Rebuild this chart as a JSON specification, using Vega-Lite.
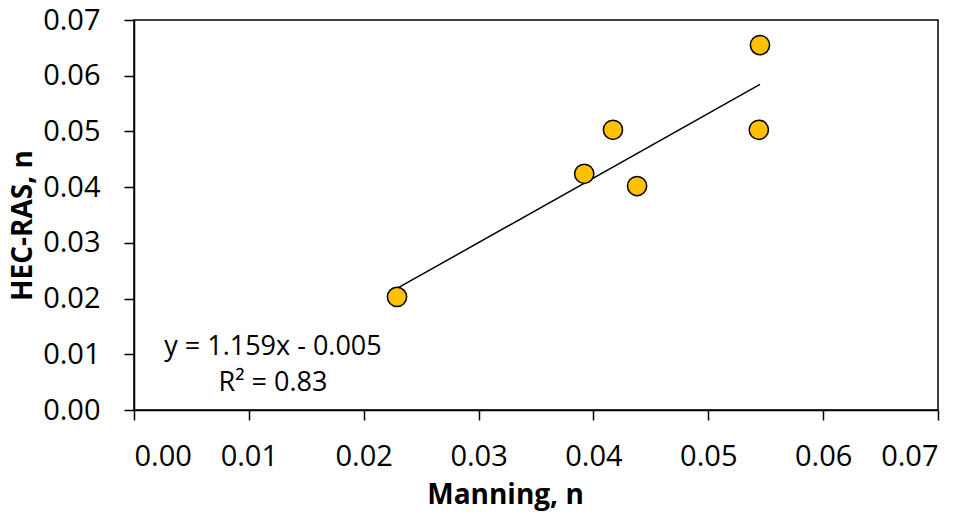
{
  "$schema": "https://vega.github.io/schema/vega-lite/v6.json",
  "width": 804,
  "height": 390,
  "autosize": {"type": "none"},
  "padding": {"left": 134, "top": 20, "right": 31, "bottom": 110},
  "background": "white",
  "config": {
    "view": {"stroke": "black", "strokeWidth": 1.5},
    "axis": {
      "grid": false,
      "domainColor": "black",
      "domainWidth": 1.5,
      "tickColor": "black",
      "tickWidth": 1.5,
      "tickSize": 10,
      "labelFont": "Open Sans",
      "labelFontSize": 29,
      "labelColor": "black",
      "titleFont": "Open Sans",
      "titleFontSize": 28,
      "titleFontWeight": "bold",
      "titleColor": "black"
    }
  },
  "data": {
    "values": [
      {"manning": 0.0229, "hecras": 0.0203},
      {"manning": 0.0392, "hecras": 0.0424},
      {"manning": 0.0417, "hecras": 0.0503},
      {"manning": 0.0438, "hecras": 0.0402},
      {"manning": 0.0545, "hecras": 0.0655},
      {"manning": 0.0544, "hecras": 0.0503}
    ]
  },
  "encoding": {
    "x": {
      "field": "manning",
      "type": "quantitative",
      "title": "Manning, n",
      "scale": {"domain": [0, 0.07], "nice": false, "zero": false},
      "axis": {"values": [0, 0.01, 0.02, 0.03, 0.04, 0.05, 0.06, 0.07], "format": ".2f", "labelPadding": 22, "titlePadding": 10, "titleX": 371}
    },
    "y": {
      "field": "hecras",
      "type": "quantitative",
      "title": "HEC-RAS, n",
      "scale": {"domain": [0, 0.07], "nice": false, "zero": false},
      "axis": {"values": [0, 0.01, 0.02, 0.03, 0.04, 0.05, 0.06, 0.07], "format": ".2f", "labelPadding": 24, "titlePadding": 5, "titleY": 205}
    }
  },
  "layer": [
    {
      "transform": [{"regression": "hecras", "on": "manning"}],
      "mark": {"type": "line", "color": "black", "strokeWidth": 1.5}
    },
    {
      "mark": {"type": "circle", "size": 370, "fill": "#FFC000", "fillOpacity": 1, "stroke": "black", "strokeWidth": 1.5, "opacity": 1}
    },
    {
      "data": {
        "values": [
          {"manning": 0.0121, "hecras": 0.0113, "label": "y = 1.159x - 0.005"},
          {"manning": 0.0121, "hecras": 0.0048, "label": "R² = 0.83"}
        ]
      },
      "mark": {"type": "text", "font": "Open Sans", "fontSize": 27, "color": "black", "align": "center", "baseline": "middle"},
      "encoding": {"text": {"field": "label"}}
    }
  ]
}
